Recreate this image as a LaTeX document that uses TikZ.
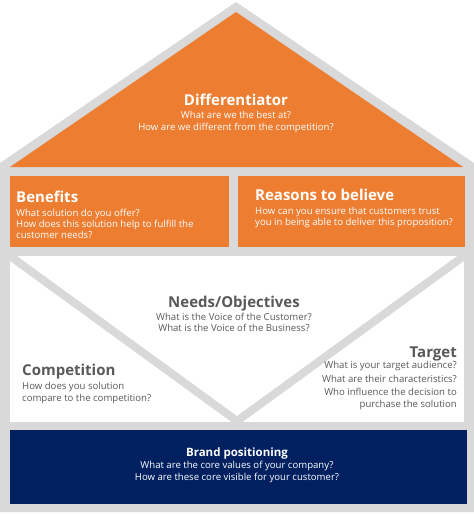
\documentclass[tikz,border=0pt]{standalone}
\usepackage{fontspec}
\setmainfont{Open Sans}
\definecolor{hgray}{RGB}{217,217,217}
\definecolor{horange}{RGB}{237,125,49}
\definecolor{hblue}{RGB}{0,32,96}
\definecolor{htext}{RGB}{89,89,89}
\begin{document}
\begin{tikzpicture}[x=1pt,y=-1pt,
  ttl/.style={inner sep=0pt,font={\bfseries\fontsize{15}{18}\selectfont}},
  sub/.style={inner sep=0pt,font={\fontsize{9.6}{11}\selectfont}},
  wtxt/.style={text=white},
  gtxt/.style={text=htext}]
\useasboundingbox (0,0) rectangle (474,515);
% house outline
\fill[hgray] (0,163) -- (236,2) -- (474,163) -- (474,512) -- (0,512) -- cycle;
% roof
\fill[horange] (10,167) -- (236,12) -- (463,167) -- cycle;
% boxes
\fill[horange] (10,176) rectangle (229,247);
\fill[horange] (238,176) rectangle (465,247);
\fill[white] (10,256) rectangle (464,422);
\begin{scope}
\clip (10,256) rectangle (464,422);
\coordinate (vl) at (10,256);
\coordinate (vb) at (237,421);
\coordinate (vr) at (464,256);
\draw[hgray,line width=8pt] (vl) -- (vb) -- (vr);
\end{scope}
\fill[hblue] (10,430) rectangle (467,504);
% Differentiator
\node[ttl,wtxt,anchor=base] (dt) at (236,105) {Differentiator};
\node[sub,wtxt,anchor=base] (d1) at (236,118) {What are we the best at?};
\node[sub,wtxt,anchor=base] (d2) at (236,130) {How are we different from the competition?};
% Benefits
\node[ttl,wtxt,anchor=base west] (bt) at (16,202) {Benefits};
\node[sub,wtxt,anchor=base west] (b1) at (16,216) {What solution do you offer?};
\node[sub,wtxt,anchor=base west] (b2) at (16,227) {How does this solution help to fulfill the};
\node[sub,wtxt,anchor=base west] (b3) at (16,238) {customer needs?};
% Reasons
\node[ttl,wtxt,anchor=base west] (rt) at (255,200) {Reasons to believe};
\node[sub,wtxt,anchor=base west] (r1) at (255,214) {How can you ensure that customers trust};
\node[sub,wtxt,anchor=base west] (r2) at (255,225) {you in being able to deliver this proposition?};
% Needs
\node[ttl,gtxt,anchor=base] (nt) at (234,307) {Needs/Objectives};
\node[sub,gtxt,anchor=base] (n1) at (234,320) {What is the Voice of the Customer?};
\node[sub,gtxt,anchor=base] (n2) at (234,331) {What is the Voice of the Business?};
% Competition
\node[ttl,gtxt,anchor=base west] (ct) at (22,375) {Competition};
\node[sub,gtxt,anchor=base west] (c1) at (22,389) {How does you solution};
\node[sub,gtxt,anchor=base west] (c2) at (22,401) {compare to the competition?};
% Target
\node[ttl,gtxt,anchor=base east] (tt) at (457,357) {Target};
\node[sub,gtxt,anchor=base east] (t1) at (457,368) {What is your target audience?};
\node[sub,gtxt,anchor=base east] (t2) at (457,382) {What are their characteristics?};
\node[sub,gtxt,anchor=base east] (t3) at (457,395) {Who influence the decision to};
\node[sub,gtxt,anchor=base east] (t4) at (457,407) {purchase the solution};
% Brand
\node[ttl,wtxt,anchor=base,font={\bfseries\fontsize{11.5}{14}\selectfont}] (pt) at (237,456) {Brand positioning};
\node[sub,wtxt,anchor=base] (p1) at (237,468) {What are the core values of your company?};
\node[sub,wtxt,anchor=base] (p2) at (237,480) {How are these core visible for your customer?};
\end{tikzpicture}
\end{document}
